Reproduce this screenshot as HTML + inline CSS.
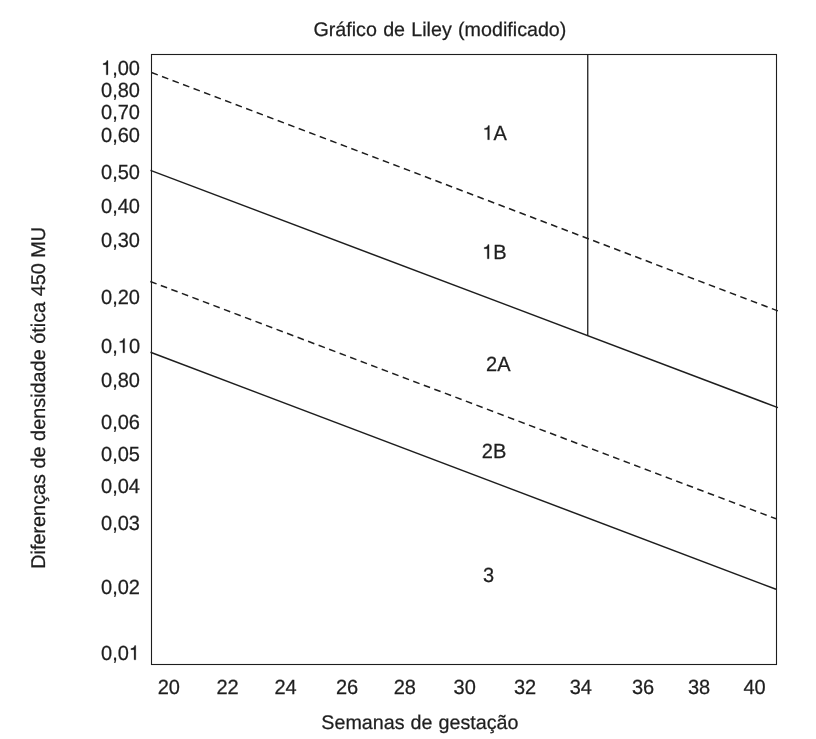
<!DOCTYPE html>
<html>
<head>
<meta charset="utf-8">
<style>
html,body{margin:0;padding:0;background:#fff;}
body{width:816px;height:739px;overflow:hidden;}
svg{display:block;-webkit-font-smoothing:antialiased;will-change:transform;}
text{font-family:"Liberation Sans",sans-serif;fill:#1e1e1e;stroke:#1e1e1e;stroke-width:0.25px;text-rendering:geometricPrecision;}
.h{fill-opacity:0;stroke-opacity:0;}
</style>
</head>
<body>
<svg width="816" height="739" viewBox="0 0 816 739">
<g stroke="#1e1e1e" stroke-width="1.1" fill="none">
<rect x="151.5" y="54.5" width="625" height="610"/>
<line x1="587.75" y1="54.5" x2="587.75" y2="335.6" stroke-width="1.3"/>
<line x1="151.5" y1="72.5" x2="777.9" y2="310.9" stroke-width="1.5" stroke-dasharray="6.7 4.55"/>
<line x1="150.5" y1="170.4" x2="777.9" y2="407.6" stroke-width="1.5"/>
<line x1="150.3" y1="281.45" x2="776" y2="518.8" stroke-width="1.5" stroke-dasharray="6.7 4.55"/>
<line x1="150.5" y1="352.3" x2="776" y2="589.3" stroke-width="1.5"/>
</g>
<text x="439.9" y="36.2" font-size="19.7" word-spacing="0.8" text-anchor="middle">Gráfico de Liley (modificado)</text>
<text x="419.9" y="729" font-size="19.7" word-spacing="0.6" text-anchor="middle">Semanas de gestação</text>
<text transform="translate(45 397.85) rotate(-90)" font-size="19.85" text-anchor="middle">Diferenças de densidade ótica 450 MU</text>

<g font-size="20" transform="scale(1 1.023)">
<text id="t0" x="140" y="73.11828" text-anchor="end"><tspan class="h">1</tspan>,00</text>
<text id="t1" x="140" y="94.81916" text-anchor="end">0,80</text>
<text id="t2" x="140" y="116.03128" text-anchor="end">0,70</text>
<text id="t3" x="140" y="138.6608" text-anchor="end">0,60</text>
<text id="t4" x="140" y="175.17107" text-anchor="end">0,50</text>
<text id="t5" x="140" y="208.3089" text-anchor="end">0,40</text>
<text id="t6" x="140" y="241.44673" text-anchor="end">0,30</text>
<text id="t7" x="140" y="296.87195" text-anchor="end">0,20</text>
<text id="t8" x="140" y="344.77028" text-anchor="end">0,<tspan class="h">1</tspan>0</text>
<text id="t9" x="140" y="378.29912" text-anchor="end">0,80</text>
<text id="t10" x="140" y="419.06158" text-anchor="end">0,06</text>
<text id="t11" x="140" y="450.53763" text-anchor="end">0,05</text>
<text id="t12" x="140" y="481.62268" text-anchor="end">0,04</text>
<text id="t13" x="140" y="517.79081" text-anchor="end">0,03</text>
<text id="t14" x="140" y="580.84066" text-anchor="end">0,02</text>
<text id="t15" x="140" y="644.96579" text-anchor="end">0,0<tspan class="h">1</tspan></text>
<text id="t16" x="168.8" y="678.10362" text-anchor="middle">20</text>
<text id="t17" x="227.5" y="678.10362" text-anchor="middle">22</text>
<text id="t18" x="285.5" y="678.10362" text-anchor="middle">24</text>
<text id="t19" x="347.1" y="678.10362" text-anchor="middle">26</text>
<text id="t20" x="404.8" y="678.10362" text-anchor="middle">28</text>
<text id="t21" x="464.7" y="678.10362" text-anchor="middle">30</text>
<text id="t22" x="525.1" y="678.10362" text-anchor="middle">32</text>
<text id="t23" x="580.8" y="678.10362" text-anchor="middle">34</text>
<text id="t24" x="643" y="678.10362" text-anchor="middle">36</text>
<text id="t25" x="699" y="678.10362" text-anchor="middle">38</text>
<text id="t26" x="754.6" y="678.10362" text-anchor="middle">40</text>
<text id="t27" x="494.7" y="136.55914" text-anchor="middle"><tspan class="h">1</tspan>A</text>
<text id="t28" x="494.35" y="252.98143" text-anchor="middle"><tspan class="h">1</tspan>B</text>
<text id="t29" x="498.35" y="362.36559" text-anchor="middle">2A</text>
<text id="t30" x="494.05" y="447.70283" text-anchor="middle">2B</text>
<text id="t31" x="488.55" y="568.91496" text-anchor="middle">3</text>
<path fill="#1e1e1e" stroke="#1e1e1e" stroke-width="12.5" transform="translate(101.0625 73.11828) scale(0.02 -0.01955)" d="M347 0V709H289C258 600 238 585 102 568V505H259V0Z"/>
<path fill="#1e1e1e" stroke="#1e1e1e" stroke-width="12.5" transform="translate(117.75 344.77029) scale(0.02 -0.01955)" d="M347 0V709H289C258 600 238 585 102 568V505H259V0Z"/>
<path fill="#1e1e1e" stroke="#1e1e1e" stroke-width="12.5" transform="translate(128.875 644.96582) scale(0.02 -0.01955)" d="M347 0V709H289C258 600 238 585 102 568V505H259V0Z"/>
<path fill="#1e1e1e" stroke="#1e1e1e" stroke-width="12.5" transform="translate(482.46564 136.55914) scale(0.02 -0.01955)" d="M347 0V709H289C258 600 238 585 102 568V505H259V0Z"/>
<path fill="#1e1e1e" stroke="#1e1e1e" stroke-width="12.5" transform="translate(482.11566 252.98143) scale(0.02 -0.01955)" d="M347 0V709H289C258 600 238 585 102 568V505H259V0Z"/>
</g>
</svg>
</body>
</html>
